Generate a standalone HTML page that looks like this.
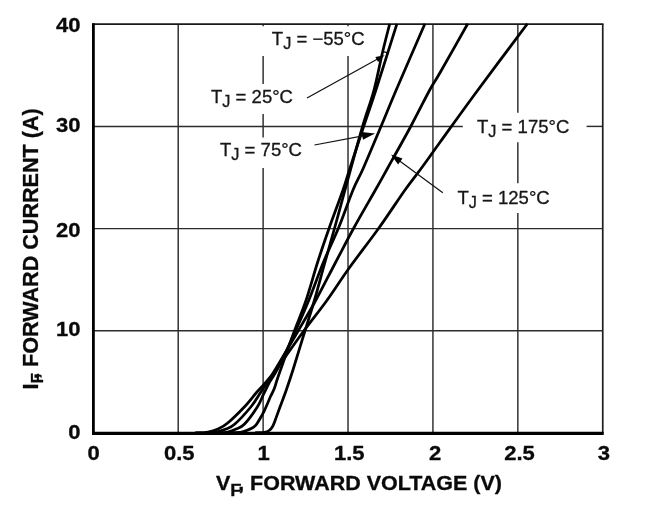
<!DOCTYPE html>
<html><head><meta charset="utf-8"><title>Forward characteristics</title>
<style>
html,body{margin:0;padding:0;background:#fff;}
body{width:650px;height:507px;overflow:hidden;font-family:"Liberation Sans",sans-serif;}
svg{display:block;filter:blur(0.45px);}
text{font-family:"Liberation Sans",sans-serif;fill:#0a0a0a;}
.b{font-weight:bold;stroke:#0a0a0a;stroke-width:0.3px;}
.lb{fill:#161616;stroke:#161616;stroke-width:0.3px;}
</style></head><body>
<svg width="650" height="507" viewBox="0 0 650 507">
<rect width="650" height="507" fill="#fff"/>
<line x1="178.21" y1="24.20" x2="178.21" y2="433.00" stroke="#2c2c2c" stroke-width="1.45"/>
<line x1="263.12" y1="24.20" x2="263.12" y2="26.20" stroke="#2c2c2c" stroke-width="1.45"/>
<line x1="263.12" y1="56.00" x2="263.12" y2="84.00" stroke="#2c2c2c" stroke-width="1.45"/>
<line x1="263.12" y1="114.00" x2="263.12" y2="137.50" stroke="#2c2c2c" stroke-width="1.45"/>
<line x1="263.12" y1="168.00" x2="263.12" y2="433.00" stroke="#2c2c2c" stroke-width="1.45"/>
<line x1="348.02" y1="24.20" x2="348.02" y2="26.20" stroke="#2c2c2c" stroke-width="1.45"/>
<line x1="348.02" y1="56.00" x2="348.02" y2="433.00" stroke="#2c2c2c" stroke-width="1.45"/>
<line x1="432.93" y1="24.20" x2="432.93" y2="433.00" stroke="#2c2c2c" stroke-width="1.45"/>
<line x1="517.84" y1="24.20" x2="517.84" y2="112.80" stroke="#2c2c2c" stroke-width="1.45"/>
<line x1="517.84" y1="142.30" x2="517.84" y2="183.30" stroke="#2c2c2c" stroke-width="1.45"/>
<line x1="517.84" y1="213.00" x2="517.84" y2="433.00" stroke="#2c2c2c" stroke-width="1.45"/>
<line x1="93.30" y1="126.40" x2="462.80" y2="126.40" stroke="#2c2c2c" stroke-width="1.45"/>
<line x1="586.60" y1="126.40" x2="602.75" y2="126.40" stroke="#2c2c2c" stroke-width="1.45"/>
<line x1="93.30" y1="228.60" x2="602.75" y2="228.60" stroke="#2c2c2c" stroke-width="1.45"/>
<line x1="93.30" y1="330.80" x2="602.75" y2="330.80" stroke="#2c2c2c" stroke-width="1.45"/>
<line x1="92.30" y1="24.20" x2="603.55" y2="24.20" stroke="#1a1a1a" stroke-width="1.8"/>
<line x1="602.75" y1="24.20" x2="602.75" y2="434.50" stroke="#1e1e1e" stroke-width="1.7"/>
<line x1="93.40" y1="23.30" x2="93.40" y2="434.90" stroke="#000" stroke-width="2.8"/>
<line x1="92.00" y1="433.35" x2="603.60" y2="433.35" stroke="#000" stroke-width="3.2"/>
<path d="M195.00,432.80 C197.17,432.67 204.17,432.63 208.00,432.00 C211.83,431.37 214.72,430.50 218.00,429.00 C221.28,427.50 223.32,426.67 227.70,423.00 C232.08,419.33 239.50,412.08 244.30,407.00 C249.10,401.92 253.00,396.53 256.50,392.50 C260.00,388.47 261.83,386.88 265.30,382.80 C268.77,378.72 271.02,376.47 277.30,368.00 C283.58,359.53 294.80,343.17 303.00,332.00 C311.20,320.83 318.80,311.67 326.50,301.00 C334.20,290.33 340.47,280.17 349.20,268.00 C357.93,255.83 369.60,241.00 378.90,228.00 C388.20,215.00 397.90,200.00 405.00,190.00 C412.10,180.00 415.67,175.95 421.50,168.00 C427.33,160.05 430.97,154.80 440.00,142.30 C449.03,129.80 461.13,112.75 475.70,93.00 C490.27,73.25 518.78,35.33 527.40,23.80" fill="none" stroke="#000" stroke-width="2.75" stroke-linejoin="round" stroke-linecap="butt"/>
<path d="M205.00,432.80 C206.93,432.67 213.10,432.63 216.60,432.00 C220.10,431.37 223.00,430.28 226.00,429.00 C229.00,427.72 230.47,427.97 234.60,424.30 C238.73,420.63 246.63,412.07 250.80,407.00 C254.97,401.93 256.75,398.17 259.60,393.90 C262.45,389.63 265.13,385.72 267.90,381.40 C270.67,377.08 271.27,376.23 276.20,368.00 C281.13,359.77 290.97,343.17 297.50,332.00 C304.03,320.83 309.02,312.67 315.40,301.00 C321.78,289.33 329.40,274.17 335.80,262.00 C342.20,249.83 347.20,240.00 353.80,228.00 C360.40,216.00 369.75,200.00 375.40,190.00 C381.05,180.00 381.77,178.67 387.70,168.00 C393.63,157.33 404.00,139.00 411.00,126.00 C418.00,113.00 424.87,98.88 429.70,90.00 C434.53,81.12 433.67,83.73 440.00,72.70 C446.33,61.67 463.08,31.95 467.70,23.80" fill="none" stroke="#000" stroke-width="2.75" stroke-linejoin="round" stroke-linecap="butt"/>
<path d="M215.00,432.80 C217.12,432.67 224.20,432.63 227.70,432.00 C231.20,431.37 233.23,430.28 236.00,429.00 C238.77,427.72 240.75,427.97 244.30,424.30 C247.85,420.63 254.07,412.07 257.30,407.00 C260.53,401.93 261.58,398.17 263.70,393.90 C265.82,389.63 267.60,385.72 270.00,381.40 C272.40,377.08 273.93,376.23 278.10,368.00 C282.27,359.77 289.93,343.17 295.00,332.00 C300.07,320.83 303.75,312.67 308.50,301.00 C313.25,289.33 318.50,274.17 323.50,262.00 C328.50,249.83 333.58,240.00 338.50,228.00 C343.42,216.00 348.85,200.00 353.00,190.00 C357.15,180.00 358.70,178.67 363.40,168.00 C368.10,157.33 375.73,139.00 381.20,126.00 C386.67,113.00 388.92,107.03 396.20,90.00 C403.48,72.97 420.12,34.83 424.90,23.80" fill="none" stroke="#000" stroke-width="2.75" stroke-linejoin="round" stroke-linecap="butt"/>
<path d="M230.00,432.80 C231.92,432.67 238.33,432.55 241.50,432.00 C244.67,431.45 246.68,430.55 249.00,429.50 C251.32,428.45 253.18,428.18 255.40,425.70 C257.62,423.22 260.53,417.72 262.30,414.60 C264.07,411.48 264.63,410.02 266.00,407.00 C267.37,403.98 269.13,399.53 270.50,396.50 C271.87,393.47 273.12,391.55 274.20,388.80 C275.28,386.05 275.83,383.47 277.00,380.00 C278.17,376.53 278.37,376.00 281.20,368.00 C284.03,360.00 289.90,343.17 294.00,332.00 C298.10,320.83 301.85,312.67 305.80,301.00 C309.75,289.33 313.80,274.17 317.70,262.00 C321.60,249.83 324.98,240.00 329.20,228.00 C333.42,216.00 339.53,200.00 343.00,190.00 C346.47,180.00 346.53,178.67 350.00,168.00 C353.47,157.33 359.48,139.00 363.80,126.00 C368.12,113.00 370.38,107.03 375.90,90.00 C381.42,72.97 393.40,34.83 396.90,23.80" fill="none" stroke="#000" stroke-width="2.75" stroke-linejoin="round" stroke-linecap="butt"/>
<path d="M255.00,432.80 C256.60,432.72 262.25,432.68 264.60,432.30 C266.95,431.92 267.77,431.47 269.10,430.50 C270.43,429.53 271.60,428.17 272.60,426.50 C273.60,424.83 273.87,423.75 275.10,420.50 C276.33,417.25 278.13,412.08 280.00,407.00 C281.87,401.92 284.12,396.25 286.30,390.00 C288.48,383.75 290.05,379.17 293.10,369.50 C296.15,359.83 301.08,343.42 304.60,332.00 C308.12,320.58 310.93,312.17 314.20,301.00 C317.47,289.83 320.80,277.17 324.20,265.00 C327.60,252.83 331.13,240.50 334.60,228.00 C338.07,215.50 342.27,200.00 345.00,190.00 C347.73,180.00 348.05,178.67 351.00,168.00 C353.95,157.33 358.87,139.00 362.70,126.00 C366.53,113.00 370.68,102.33 374.00,90.00 C377.32,77.67 379.98,63.03 382.60,52.00 C385.22,40.97 388.52,28.50 389.70,23.80" fill="none" stroke="#000" stroke-width="2.75" stroke-linejoin="round" stroke-linecap="butt"/>
<line x1="307.00" y1="98.00" x2="378.47" y2="58.58" stroke="#111" stroke-width="1.2"/><polygon points="384.60,55.20 378.07,62.00 375.37,57.09" fill="#000"/>
<line x1="382.30" y1="51.60" x2="387.60" y2="52.60" stroke="#000" stroke-width="1.3"/>
<line x1="314.50" y1="145.00" x2="364.19" y2="135.55" stroke="#111" stroke-width="1.2"/><polygon points="375.00,133.50 362.98,139.86 361.48,132.00" fill="#000"/>
<line x1="442.80" y1="192.70" x2="398.65" y2="160.23" stroke="#111" stroke-width="1.2"/><polygon points="391.00,154.60 402.46,158.43 398.07,164.39" fill="#000"/>
<text transform="translate(271.8,44.9) scale(1.03,1)" font-size="18" class="lb">T<tspan font-size="15.8" dy="3.9">J</tspan><tspan dy="-3.9"> = −55°C</tspan></text><text transform="translate(211.0,103.2) scale(1.03,1)" font-size="18" class="lb">T<tspan font-size="15.8" dy="3.9">J</tspan><tspan dy="-3.9"> = 25°C</tspan></text><text transform="translate(220.0,156.3) scale(1.03,1)" font-size="18" class="lb">T<tspan font-size="15.8" dy="3.9">J</tspan><tspan dy="-3.9"> = 75°C</tspan></text><text transform="translate(477.0,133.3) scale(1.03,1)" font-size="18" class="lb">T<tspan font-size="15.8" dy="3.9">J</tspan><tspan dy="-3.9"> = 175°C</tspan></text><text transform="translate(457.4,203.9) scale(1.03,1)" font-size="18" class="lb">T<tspan font-size="15.8" dy="3.9">J</tspan><tspan dy="-3.9"> = 125°C</tspan></text>
<text transform="translate(80.6,31.5) scale(1.13,1)" font-size="19.5" class="b" text-anchor="end">40</text><text transform="translate(80.6,131.5) scale(1.13,1)" font-size="19.5" class="b" text-anchor="end">30</text><text transform="translate(80.6,236.6) scale(1.13,1)" font-size="19.5" class="b" text-anchor="end">20</text><text transform="translate(80.6,335.8) scale(1.13,1)" font-size="19.5" class="b" text-anchor="end">10</text><text transform="translate(80.6,438.5) scale(1.13,1)" font-size="19.5" class="b" text-anchor="end">0</text><text transform="translate(93.65,460.1) scale(1.13,1)" font-size="19.5" class="b" text-anchor="middle">0</text><text transform="translate(179.2,460.1) scale(1.13,1)" font-size="19.5" class="b" text-anchor="middle">0.5</text><text transform="translate(263.6,460.1) scale(1.13,1)" font-size="19.5" class="b" text-anchor="middle">1</text><text transform="translate(349.25,460.1) scale(1.13,1)" font-size="19.5" class="b" text-anchor="middle">1.5</text><text transform="translate(435.2,460.1) scale(1.13,1)" font-size="19.5" class="b" text-anchor="middle">2</text><text transform="translate(519.5,460.1) scale(1.13,1)" font-size="19.5" class="b" text-anchor="middle">2.5</text><text transform="translate(603.9,460.1) scale(1.13,1)" font-size="19.5" class="b" text-anchor="middle">3</text>
<text transform="translate(216.0,490.3) scale(1.108,1)" font-size="19.4" class="b">V<tspan font-size="16.5" dy="5.4">F</tspan><tspan font-size="19.4" dy="-5.4" dx="-3">, FORWARD VOLTAGE (V)</tspan></text><text transform="translate(37.8,389.5) rotate(-90)" font-size="21.6" class="b">I<tspan font-size="17" dy="4.8">F</tspan><tspan font-size="21.6" dy="-4.8" dx="-5.8">, FORWARD CURRENT (A)</tspan></text>
</svg>
</body></html>
